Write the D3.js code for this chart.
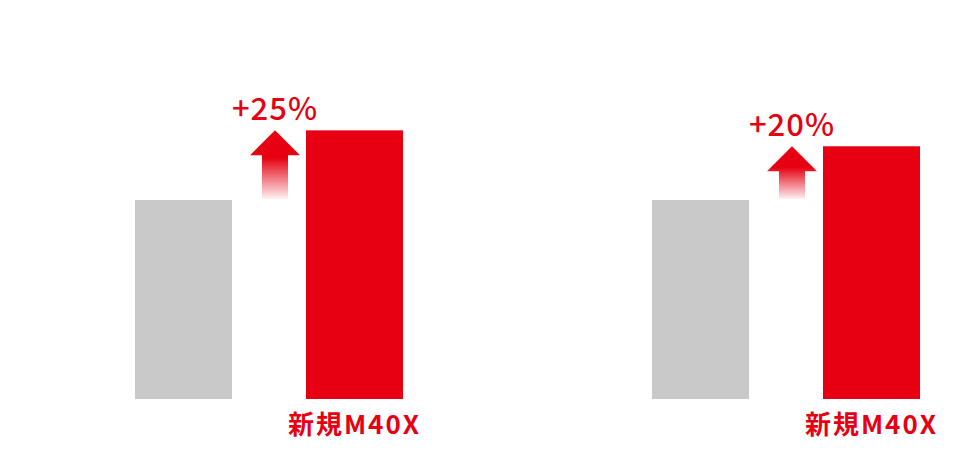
<!DOCTYPE html>
<html>
<head>
<meta charset="utf-8">
<script src="https://cdn.jsdelivr.net/npm/d3@7"></script>
<style>
  body { margin: 0; background: #fff; }
  svg { display: block; }
</style>
</head>
<body>
<div id="chart"></div>
<script>
var groups = ['A', 'B'];
var series = ['before', 'after'];
var beforeValues = [100, 100];
var afterValues = [135, 127];
var gainLabels = ['+25%', '+20%'];
var productLabel = '新規M40X';

var width = 960,
    height = 450;

var red = '#e60012',
    gray = '#c9c9c9';

var x0 = d3.scaleBand()
    .domain(groups)
    .range([135, 920])
    .paddingInner(249 / 517)
    .paddingOuter(0);

var x1 = d3.scaleBand()
    .domain(series)
    .range([0, x0.bandwidth()])
    .paddingInner(74 / 171);

var yScale = d3.scaleLinear()
    .domain([0, 100])
    .range([399, 200]);

var svg = d3.select('#chart').append('svg')
    .attr('width', width)
    .attr('height', height);

var grad = svg.append('defs').append('linearGradient')
    .attr('id', 'arrowFade')
    .attr('x1', 0).attr('y1', 0)
    .attr('x2', 0).attr('y2', 1);
grad.append('stop').attr('offset', '0%').attr('stop-color', red);
grad.append('stop').attr('offset', '40%').attr('stop-color', red);
grad.append('stop').attr('offset', '100%').attr('stop-color', red).attr('stop-opacity', 0.05);

var rows = groups.map(function(g, i) {
  return { group: g, before: beforeValues[i], after: afterValues[i], label: gainLabels[i] };
});

var g = svg.selectAll('g.group').data(rows)
  .enter().append('g')
    .attr('class', 'group')
    .attr('transform', function(d) { return 'translate(' + x0(d.group) + ',0)'; });

g.append('rect')
    .attr('x', x1('before'))
    .attr('width', x1.bandwidth())
    .attr('y', function(d) { return yScale(d.before); })
    .attr('height', function(d) { return yScale(0) - yScale(d.before); })
    .style('fill', gray);

g.append('rect')
    .attr('x', x1('after'))
    .attr('width', x1.bandwidth())
    .attr('y', function(d) { return yScale(d.after); })
    .attr('height', function(d) { return yScale(0) - yScale(d.after); })
    .style('fill', red);

// arrow between the bars, from the top of the gray bar up to the top of the red one
var arrowX = (x1('before') + x1.bandwidth() + x1('after')) / 2 + 6;

g.append('path')
    .attr('d', function(d) {
      var top = yScale(d.after),
          bottom = yScale(d.before) - 1,
          neck = top + 25;
      return 'M' + arrowX + ',' + top +
        'L' + (arrowX + 25) + ',' + neck +
        'L' + (arrowX + 13) + ',' + neck +
        'L' + (arrowX + 13) + ',' + bottom +
        'L' + (arrowX - 13) + ',' + bottom +
        'L' + (arrowX - 13) + ',' + neck +
        'L' + (arrowX - 25) + ',' + neck + 'Z';
    })
    .style('fill', 'url(#arrowFade)');

g.append('text')
    .attr('x', arrowX)
    .attr('y', function(d) { return yScale(d.after) - 10; })
    .attr('text-anchor', 'middle')
    .style('font-family', '"Noto Sans CJK JP", "Noto Sans", sans-serif')
    .style('font-weight', 500)
    .style('font-size', '31px')
    .style('letter-spacing', '1px')
    .style('fill', red)
    .text(function(d) { return d.label; });

g.append('text')
    .attr('x', x1('after') + x1.bandwidth() / 2)
    .attr('y', 434)
    .attr('text-anchor', 'middle')
    .style('font-family', '"Noto Sans CJK JP", sans-serif')
    .style('font-weight', 700)
    .style('font-size', '26px')
    .style('letter-spacing', '2px')
    .style('fill', red)
    .text(productLabel);
</script>
</body>
</html>
